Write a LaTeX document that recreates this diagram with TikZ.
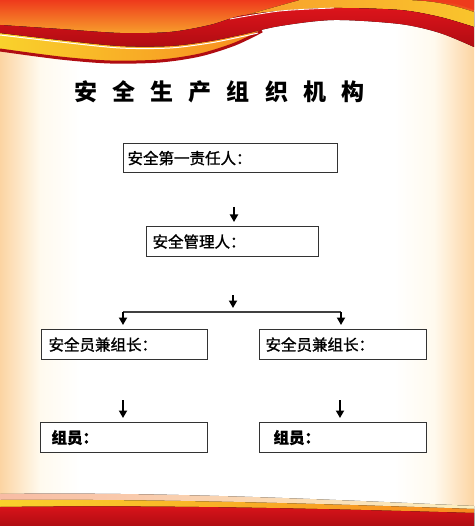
\documentclass[tikz,border=0pt]{standalone}
\usepackage{fontspec}
\newfontfamily\cjk[FakeBold=1.2]{Noto Sans CJK SC}
\newfontfamily\titlecjk[LetterSpace=66]{Noto Sans CJK SC}
\usetikzlibrary{arrows.meta}
\definecolor{peach}{HTML}{FCD4A2}
\definecolor{cream}{HTML}{FFFAEE}
\definecolor{flameA}{HTML}{EE3A1C}
\definecolor{flameB}{HTML}{F8A02C}
\definecolor{flameY}{HTML}{F9C42C}
\definecolor{bandred}{HTML}{DC141B}
\definecolor{banddark}{HTML}{B00C12}
\definecolor{bandY}{HTML}{F9D22C}
\definecolor{bandO}{HTML}{F88A20}
\definecolor{blush}{HTML}{F8BCA4}
\definecolor{paleY}{HTML}{FBEFC0}

\begin{document}
\begin{tikzpicture}[
        x=1pt,
        y=-1pt,
        every node/.style={inner sep=0pt},
        orgbox/.style={draw=black!80, line width=1.1pt, fill=white, anchor=north west,
            align=left, minimum height=30pt, font=\cjk\fontsize{15.5}{15.5}\selectfont},
        membox/.style={orgbox, font=\cjk\bfseries\fontsize{15.5}{15.5}\selectfont},
        flow/.style={-{Triangle[width=8pt,length=7.5pt]}, line width=2.5pt, shorten >=4pt},
        bar/.style={line width=1.2pt, draw=black!75}
    ]
    \useasboundingbox (0,0) rectangle (474,526);
    \fill[white] (0,0) rectangle (474,526);
    \shade[left color=peach, right color=white, middle color=cream] (0,0) rectangle (80,526);
    \shade[left color=white, right color=peach, middle color=cream] (394,0) rectangle (474,526);

    % top banner
    \fill[top color=flameA, bottom color=flameB] (0,0) -- (474,0) -- plot[smooth] coordinates
        {(474,27) (440,17) (400,10) (334,8) (280,11) (240,16) (210,25) (170,32) (120,33) (60,29) (0,25)} -- cycle;
    \fill[left color=flameB, right color=flameY] plot[smooth] coordinates
        {(250,14) (280,11) (334,8) (400,10) (440,17) (474,27)} -- (474,12)
        .. controls (450,4) and (430,0) .. (400,0) -- (300,0) -- cycle;
    \fill[flameA] (425,0) -- (474,0) -- (474,10) .. controls (455,3) .. (425,0) -- cycle;
    \fill[left color=bandY, right color=bandO] plot[smooth] coordinates
        {(0,33) (60,40) (120,46) (170,46) (210,41) (240,35) (262,30)} -- plot[smooth] coordinates
        {(262,30) (235,43) (200,54) (160,60) (110,61) (60,57) (0,49)} -- cycle;
    \draw[banddark, line width=3pt] plot[smooth] coordinates
        {(0,50) (60,58) (110,62) (160,61) (200,55) (235,44) (262,31)};
    \draw[white, line width=1pt] plot[smooth] coordinates
        {(0,35) (60,42) (120,48) (170,48) (210,43) (240,37) (258,33)};
    \fill[top color=bandred, bottom color=banddark] plot[smooth] coordinates
        {(0,25) (60,29) (120,33) (170,32) (210,25) (240,16) (280,11) (334,8) (400,10) (440,17) (474,27)}
        -- plot[smooth] coordinates
        {(474,47) (440,33) (400,24) (334,20) (280,26) (240,35) (210,41) (170,46) (120,46) (60,40) (0,33)} -- cycle;
    \draw[white, line width=0.8pt] plot[smooth] coordinates {(230,19) (280,11) (334,8)};

    % bottom banner
    \fill[left color=blush, right color=paleY] (0,494) .. controls (150,492) and (300,498) .. (474,506)
        -- (474,526) -- (0,526) -- cycle;
    \fill[left color=bandY, right color=bandO] (0,500) .. controls (150,499) and (300,503) .. (474,509)
        -- (474,526) -- (0,526) -- cycle;
    \fill[top color=bandred, bottom color=banddark] (0,507) .. controls (150,505) and (300,508) .. (474,513)
        -- (474,526) -- (0,526) -- cycle;

    \node[anchor=west, font=\titlecjk\bfseries\fontsize{23}{23}\selectfont] (title) at (74,92) {安全生产组织机构};

    \node[orgbox, inner xsep=4pt, text width=206pt, minimum height=29pt] (chief) at (123,143) {安全第一责任人：};
    \node[orgbox, inner xsep=6pt, text width=160pt] (mgr) at (146,226) {安全管理人：};
    \node[orgbox, inner xsep=7pt, text width=152pt] (lead1) at (41,329) {安全员兼组长：};
    \node[orgbox, inner xsep=6pt, text width=155pt] (lead2) at (259,329) {安全员兼组长：};
    \node[membox, inner xsep=11pt, text width=145pt] (crew1) at (40,422) {组员：};
    \node[membox, inner xsep=14pt, text width=139pt] (crew2) at (259,422) {组员：};

    \coordinate (a1) at (234,207);
    \coordinate (a2) at (233,295);
    \coordinate (fork) at (233,312);
    \coordinate (bl) at (123,312);
    \coordinate (br) at (341,312);
    \coordinate (c1) at (123,400);
    \coordinate (c2) at (340,400);

    \draw[flow] (a1) -- (a1 |- mgr.north);
    \draw[flow] (a2) -- (fork);
    \draw[bar] (bl) -- (br);
    \draw[flow] (bl) -- (bl |- lead1.north);
    \draw[flow] (br) -- (br |- lead2.north);
    \draw[flow] (c1) -- (c1 |- crew1.north);
    \draw[flow] (c2) -- (c2 |- crew2.north);
\end{tikzpicture}
\end{document}
